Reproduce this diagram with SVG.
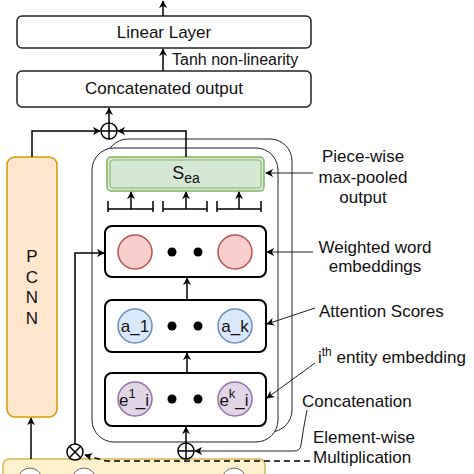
<svg xmlns="http://www.w3.org/2000/svg" width="474" height="474" viewBox="0 0 474 474">
<defs>
<marker id="ah" viewBox="0 0 10 10" refX="9" refY="5" markerWidth="8" markerHeight="8" markerUnits="userSpaceOnUse" orient="auto">
<path d="M0,0 L10,5 L0,10 L3,5 Z" fill="#000"/>
</marker>
<style>
text{font-family:"Liberation Sans",Arial,sans-serif;fill:#111}
.lbl{font-size:17px}
.box{fill:#fff;stroke:#222;stroke-width:1.5}
.inbox{fill:#fff;stroke:#000;stroke-width:2}
.ln{fill:none;stroke:#000;stroke-width:1.5}
.thin{fill:none;stroke:#222;stroke-width:1}
.pink{fill:#f8cecc;stroke:#b85450;stroke-width:1.5}
.blue{fill:#dae8fc;stroke:#6c8ebf;stroke-width:1.5}
.purp{fill:#e1d5e7;stroke:#9673a6;stroke-width:1.5}
.dot{fill:#000}
</style>
</defs>
<rect width="474" height="474" fill="#fff"/>

<g id="input">
<rect x="3" y="459" width="262" height="30" rx="6" fill="#fff2cc" stroke="#d6b656" stroke-width="1.5"/>
<ellipse cx="30" cy="480" rx="12" ry="12" fill="#fff" stroke="#666"/>
<ellipse cx="84" cy="480" rx="12" ry="12" fill="#fff" stroke="#666"/>
<ellipse cx="234" cy="480" rx="12" ry="12" fill="#fff" stroke="#666"/>
</g>

<g id="linear">
<rect class="box" x="17" y="16" width="294" height="32" rx="5"/>
<text class="lbl" x="164" y="38" text-anchor="middle">Linear Layer</text>
</g>
<g id="concat">
<rect class="box" x="17" y="71" width="294" height="36" rx="5"/>
<text class="lbl" x="164" y="94" text-anchor="middle">Concatenated output</text>
</g>
<text id="tanh" x="172" y="65" font-size="16">Tanh non-linearity</text>

<g id="pcnn">
<rect x="7" y="157" width="50" height="260" rx="8" fill="#ffe6cc" stroke="#d79b00" stroke-width="1.5"/>
<text class="lbl" x="32" y="262" text-anchor="middle">P</text>
<text class="lbl" x="32" y="283" text-anchor="middle">C</text>
<text class="lbl" x="32" y="303" text-anchor="middle">N</text>
<text class="lbl" x="32" y="324" text-anchor="middle">N</text>
</g>

<g id="stack">
<rect class="thin" x="106" y="139" width="186" height="293" rx="22" fill="#fff"/>
<rect class="thin" x="92" y="148" width="186" height="294" rx="22" style="fill:#fff"/>
</g>

<g id="sea">
<rect x="107" y="157" width="157" height="34" rx="4" fill="#d5e8d4" stroke="#82b366" stroke-width="1.5"/>
<rect x="110" y="160" width="151" height="28" rx="3" fill="none" stroke="#82b366" stroke-width="1"/>
<text x="186" y="179" text-anchor="middle"><tspan font-size="18">S</tspan><tspan font-size="14" dy="4">ea</tspan></text>
</g>

<g id="weighted">
<rect class="inbox" x="105" y="226" width="161" height="51" rx="7"/>
<circle class="pink" cx="135" cy="252" r="17"/>
<circle class="pink" cx="235" cy="252" r="17"/>
<circle class="dot" cx="172" cy="252" r="4.5"/>
<circle class="dot" cx="198" cy="252" r="4.5"/>
</g>

<g id="attention">
<rect class="inbox" x="105" y="300" width="161" height="52" rx="7"/>
<circle class="blue" cx="135" cy="326" r="17"/>
<circle class="blue" cx="235" cy="326" r="17"/>
<circle class="dot" cx="172" cy="326" r="4.5"/>
<circle class="dot" cx="198" cy="326" r="4.5"/>
<text class="lbl" x="135" y="332" text-anchor="middle">a_1</text>
<text class="lbl" x="235" y="332" text-anchor="middle">a_k</text>
</g>

<g id="entity">
<rect class="inbox" x="105" y="373" width="161" height="53" rx="7"/>
<circle class="purp" cx="135" cy="399" r="17"/>
<circle class="purp" cx="235" cy="399" r="17"/>
<circle class="dot" cx="172" cy="399" r="4.5"/>
<circle class="dot" cx="198" cy="399" r="4.5"/>
<text x="134" y="406" text-anchor="middle"><tspan font-size="17">e</tspan><tspan font-size="13" dy="-8">1</tspan><tspan font-size="17" dy="8">_i</tspan></text>
<text x="234" y="406" text-anchor="middle"><tspan font-size="17">e</tspan><tspan font-size="13" dy="-8">k</tspan><tspan font-size="17" dy="8">_i</tspan></text>
</g>

<g id="ops">
<circle cx="109" cy="131" r="8" fill="#fff" stroke="#000" stroke-width="1.5"/>
<path d="M101,131 H117 M109,123 V139" stroke="#000" stroke-width="1.5"/>
<circle cx="186" cy="451" r="8" fill="#fff" stroke="#000" stroke-width="1.5"/>
<path d="M178,451 H194 M186,443 V459" stroke="#000" stroke-width="1.5"/>
<circle cx="75" cy="452" r="8" fill="#fff" stroke="#000" stroke-width="1.5"/>
<path d="M69.3,446.3 L80.7,457.7 M80.7,446.3 L69.3,457.7" stroke="#000" stroke-width="1.5"/>
</g>

<g id="labels" class="lbl">
<text class="lbl" x="363" y="162" text-anchor="middle">Piece-wise</text>
<text class="lbl" x="363" y="183" text-anchor="middle">max-pooled</text>
<text class="lbl" x="363" y="203" text-anchor="middle">output</text>
<text class="lbl" x="375" y="253" text-anchor="middle">Weighted word</text>
<text class="lbl" x="375" y="272" text-anchor="middle">embeddings</text>
<text class="lbl" x="319" y="317">Attention Scores</text>
<text class="lbl" x="318" y="363">i<tspan font-size="12" dy="-7">th</tspan><tspan dy="7"> entity embedding</tspan></text>
<text class="lbl" x="302" y="407">Concatenation</text>
<text class="lbl" x="313" y="443">Element-wise</text>
<text class="lbl" x="313" y="463">Multiplication</text>
</g>

<g id="connectors">
<path class="ln" d="M163,16 V1" marker-end="url(#ah)"/>
<path class="ln" d="M163,71 V49" marker-end="url(#ah)"/>
<path class="ln" d="M109,123 V108" marker-end="url(#ah)"/>
<path class="ln" d="M32,157 V131 H100" marker-end="url(#ah)"/>
<path class="ln" d="M186,157 V131 H118" marker-end="url(#ah)"/>
<path class="ln" d="M31,459 V418" marker-end="url(#ah)"/>
<path class="ln" d="M108,201 V212 M108,209 H153 M153,201 V212"/>
<path class="ln" d="M131,209 V192" marker-end="url(#ah)"/>
<path class="ln" d="M163,201 V212 M163,209 H207 M207,201 V212"/>
<path class="ln" d="M186,209 V192" marker-end="url(#ah)"/>
<path class="ln" d="M217,201 V212 M217,209 H261 M261,201 V212"/>
<path class="ln" d="M239,209 V192" marker-end="url(#ah)"/>
<path class="ln" d="M187,300 V278" marker-end="url(#ah)"/>
<path class="ln" d="M187,373 V353" marker-end="url(#ah)"/>
<path class="ln" d="M186,443 V427" marker-end="url(#ah)"/>
<path class="ln" d="M75,444 V253 H104" marker-end="url(#ah)"/>
<path class="thin" d="M313,173 H266" marker-end="url(#ah)"/>
<path class="thin" d="M313,252 H267" marker-end="url(#ah)"/>
<path class="thin" d="M315,308 L267,324" marker-end="url(#ah)"/>
<path class="thin" d="M315,363 L267,398" marker-end="url(#ah)"/>
<path class="thin" d="M307,410 Q303,430 301,445 Q300,451 294,451 H195" marker-end="url(#ah)"/>
<path fill="none" stroke="#000" stroke-width="1.5" stroke-dasharray="6,4" d="M310,461 H106 L85,455" marker-end="url(#ah)"/>
</g>
</svg>
